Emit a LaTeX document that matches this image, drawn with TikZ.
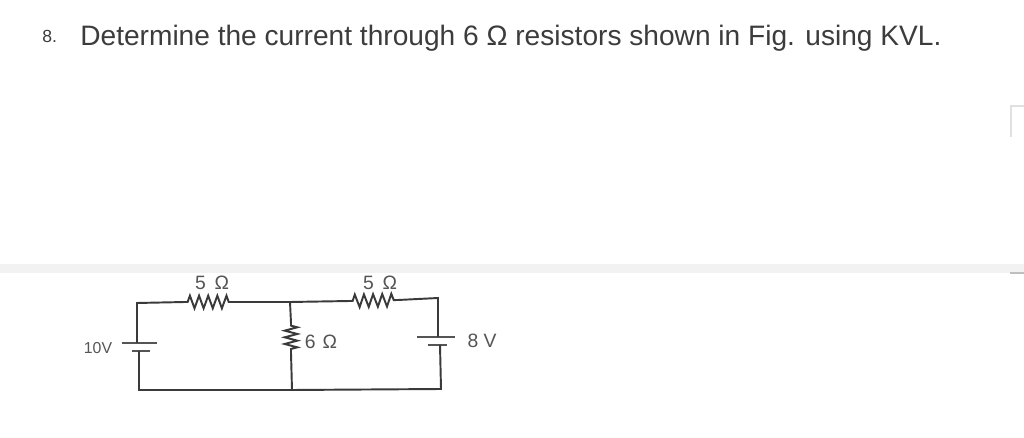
\documentclass[tikz,border=0pt]{standalone}
\usepackage{fontspec}
\setmainfont{Liberation Sans}
\usepackage{tikz}
\usetikzlibrary{decorations.pathmorphing, positioning, calc}
\definecolor{inkgray}{HTML}{3C3C3C}
\definecolor{wiregray}{HTML}{3A3A3A}
\definecolor{labelgray}{HTML}{555555}
\tikzset{
  wire/.style={draw=wiregray, line width=1.1pt},
  resist/.style={draw=wiregray, line width=1.1pt, decorate, decoration={zigzag, segment length=5.2pt, amplitude=3.6pt, pre length=1.5pt, post length=1.5pt}},
  plate/.style={draw=labelgray, line width=1pt},
  smalllabel/.style={text=labelgray, font=\fontsize{11pt}{13pt}\selectfont, inner sep=0pt},
  headline/.style={text=inkgray, font=\fontsize{16pt}{18pt}\selectfont, inner sep=0pt, anchor=base west}
}
\begin{document}
\begin{tikzpicture}[x=0.02cm,y=-0.02cm]
\useasboundingbox (0,0) rectangle (1024,438);
\fill[white] (0,0) rectangle (1024,438);
% page marks
\fill[black!5] (0,264) rectangle (1024,273);
\draw[black!12, line width=1pt] (1024,106) -- (1011,106) -- (1011,137);
\draw[black!25, line width=1pt] (1010,273) -- (1024,273);
% question
\node[headline, font=\fontsize{10pt}{12pt}\selectfont] (num) at (42,43) {8.};
\node[headline] (question) at (80,46) {Determine the current through 6 Ω resistors shown in Fig. using KVL.};
% corners and joints
\coordinate (tl) at (137,303);
\coordinate (bl) at (139,390);
\coordinate (tm) at (290,302);
\coordinate (bm) at (292,390);
\coordinate (tr) at (438,298);
\coordinate (br) at (441,389);
% left battery
\coordinate (bat1a) at (137,343);
\coordinate (bat1b) at (139,351);
\draw[plate] (122,343) -- (157,343);
\draw[plate] (132,351) -- (150,351);
% right battery
\coordinate (bat2a) at (438,337);
\coordinate (bat2b) at (440,345);
\draw[plate] (417,337) -- (455,337);
\draw[plate] (428,345) -- (447,345);
% resistors
\coordinate (r1a) at (185,302);
\coordinate (r1b) at (232,302);
\coordinate (r2a) at (350,301);
\coordinate (r2b) at (398,300);
\coordinate (r3a) at (291,323);
\coordinate (r3b) at (291,353);
\draw[resist] (r1a) -- (r1b);
\draw[resist] (r2a) -- (r2b);
\draw[resist, decoration={segment length=3.8pt}] (r3a) -- (r3b);
% wires
\draw[wire] (bat1a) -- (tl) -- (r1a);
\draw[wire] (r1b) -- (tm) -- (r2a);
\draw[wire] (r2b) -- (tr) -- (bat2a);
\draw[wire] (bat2b) -- (br) -- (bm) -- (bl) -- (bat1b);
\draw[wire] (tm) -- (r3a);
\draw[wire] (r3b) -- (bm);
% labels
\node[smalllabel] (lab1) at (212,283) {5\hspace{5pt}Ω};
\node[smalllabel] (lab2) at (380,283) {5\hspace{5pt}Ω};
\node[smalllabel] (lab3) at (321,342) {6\hspace{4pt}Ω};
\node[smalllabel, font=\fontsize{9pt}{11pt}\selectfont] (lab4) at (98,348) {10V};
\node[smalllabel] (lab5) at (482,341) {8 V};
\end{tikzpicture}
\end{document}
